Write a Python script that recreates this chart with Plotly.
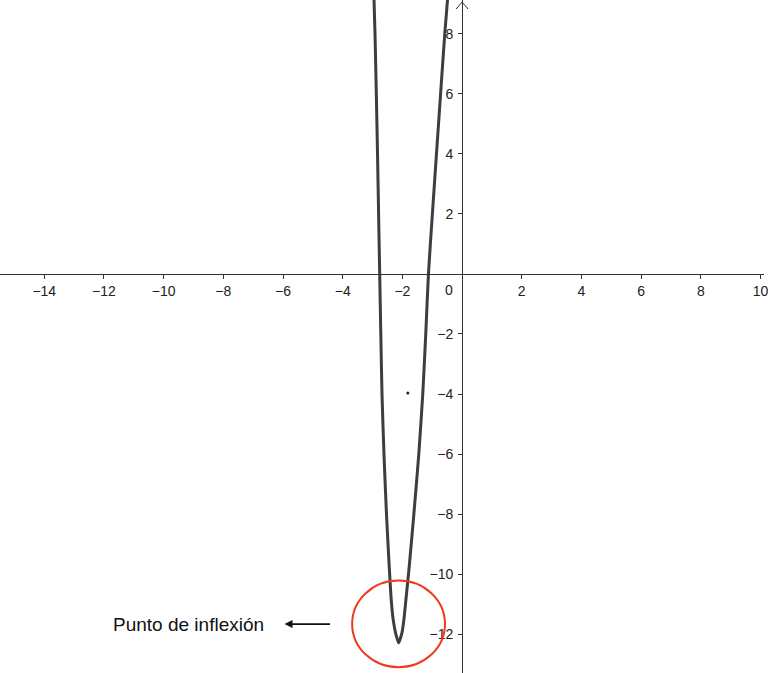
import plotly.graph_objects as go

# curve (left branch, minimum, right branch)
curve_x = [-2.955, -2.917, -2.873, -2.833, -2.797, -2.76, -2.723, -2.683, -2.617,
           -2.533, -2.44, -2.373, -2.307, -2.227, -2.127, -2.017, -1.95, -1.883,
           -1.773, -1.615, -1.45, -1.317, -1.217, -1.127, -0.995, -0.858, -0.72,
           -0.580, -0.475]
curve_y = [9.3, 8.0, 6.0, 4.0, 2.0, 0.0, -2.0, -4.0, -6.0,
           -8.0, -9.77, -10.87, -11.53, -11.97, -12.29, -11.97, -11.53, -10.87,
           -9.77, -8.0, -6.0, -4.0, -2.0, 0.0, 2.0, 4.0, 6.0,
           8.0, 9.3]

dot_x = [-1.817]
dot_y = [-3.97]

x_ticks = [-14, -12, -10, -8, -6, -4, -2, 2, 4, 6, 8, 10]
y_ticks = [-12, -10, -8, -6, -4, -2, 2, 4, 6, 8]

X_RANGE = [-15.483, 10.117]
Y_RANGE = [-13.3, 9.133]

# red ellipse around the minimum
circle_box = dict(x0=-3.683, x1=-0.573, y0=-13.11, y1=-10.22)

label_text = "Punto de inflexión"
label_x, label_y = -9.18, -11.67
arrow_tip_x = -5.95

FONT = "Liberation Sans, Arial, sans-serif"

fig = go.Figure()

fig.add_trace(go.Scatter(
    x=curve_x, y=curve_y, mode="lines",
    line=dict(color="#3d3d3d", width=3, shape="spline", smoothing=0.6),
    hoverinfo="skip", showlegend=False,
))

fig.add_trace(go.Scatter(
    x=dot_x, y=dot_y, mode="markers",
    marker=dict(color="#222222", size=3),
    hoverinfo="skip", showlegend=False,
))

# axes cross at the origin
x_pos = (0 - X_RANGE[0]) / (X_RANGE[1] - X_RANGE[0])
y_pos = (0 - Y_RANGE[0]) / (Y_RANGE[1] - Y_RANGE[0])

axis_common = dict(
    showgrid=False, zeroline=False, showline=True, linecolor="#333333",
    linewidth=1, ticks="outside", ticklen=4, tickcolor="#333333",
    tickfont=dict(family=FONT, size=14, color="#222222"),
    anchor="free", ticklabeloverflow="allow",
)

fig.update_layout(
    width=768, height=673,
    margin=dict(l=0, r=0, t=0, b=0),
    paper_bgcolor="white", plot_bgcolor="white",
    xaxis=dict(range=X_RANGE, tickvals=x_ticks, position=y_pos, **axis_common),
    yaxis=dict(range=Y_RANGE, tickvals=y_ticks, position=x_pos,
               ticklabelstandoff=2, **axis_common),
    shapes=[
        dict(type="circle", xref="x", yref="y", line=dict(color="#f03a1e", width=2),
             **circle_box),
        # arrow tip on top of the y axis
        dict(type="path", xref="x", yref="y", xsizemode="pixel", ysizemode="pixel",
             xanchor=0, yanchor=Y_RANGE[1], path="M-6,-9 L0,-2 L6,-9",
             line=dict(color="#333333", width=1)),
    ],
    annotations=[
        dict(x=label_x, y=label_y, text=label_text, showarrow=False,
             font=dict(family=FONT, size=19, color="#111111")),
        dict(x=arrow_tip_x, y=label_y, ax=47, ay=0, text="", showarrow=True,
             arrowhead=2, arrowsize=1, arrowwidth=1.6, arrowcolor="#111111"),
        dict(x=-0.45, y=-0.55, text="0", showarrow=False,
             font=dict(family=FONT, size=14, color="#222222")),
    ],
)

fig.write_html("out.html", config={"displayModeBar": False},
               post_script="document.body.style.margin='0px';document.body.style.overflow='hidden';")
